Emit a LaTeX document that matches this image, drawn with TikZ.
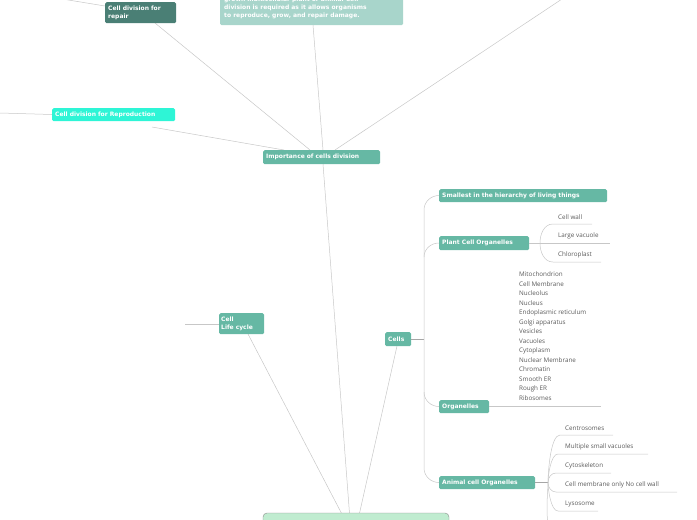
\documentclass[tikz,border=0pt]{standalone}
\usepackage{fontspec}
\setmainfont{DejaVu Sans}
\newfontfamily\leaffont{Open Sans}
\definecolor{cDark}{RGB}{74,127,117}
\definecolor{cCyan}{RGB}{46,245,214}
\definecolor{cMid}{RGB}{102,184,164}
\definecolor{cLight}{RGB}{168,213,203}
\definecolor{cRoot}{RGB}{192,236,208}
\begin{document}
\begin{tikzpicture}[x=1pt,y=-1pt,
 box/.style={fill=#1,rounded corners=1.5pt,text=white,font=\bfseries\fontsize{6}{8}\selectfont,inner sep=0pt,anchor=north west,align=left},
 conn/.style={draw=black!22,line width=0.5pt},
 leaf/.style={font=\leaffont\fontsize{6.3}{9.5}\selectfont,text=black!65,anchor=west,inner sep=0pt,align=left}]
\useasboundingbox (0,0) rectangle (697,520);
\begin{scope}
\clip (0,0) rectangle (697,520);
% connectors
\coordinate (e1) at (50,-3);
\coordinate (e2) at (0,113);
\coordinate (e3) at (185,324);
\coordinate (e4) at (565,-3);
\draw[conn] (e1) -- (105,6);
\draw[conn] (e2) -- (52,114.5);
\draw[conn] (e3) -- (219,324);
\draw[conn] (e4) -- (335,150);
\draw[conn] (313,25) -- (323,150);
\draw[conn] (155,23) -- (310,150);
\draw[conn] (152,127) -- (284,150);
\draw[conn] (323,164) -- (350,520);
\draw[conn] (248,334) -- (345,520);
\draw[conn] (397,346) -- (358,520);
% nodes
\node[box=cLight,minimum width=183pt,minimum height=31pt] (top) at (220,-6) {};
\node[font=\bfseries\fontsize{6}{8}\selectfont,text=white,anchor=north west,align=left,inner sep=0pt] (toptxt) at (224,-3.5) {grown multicellular plant or animal Cell\\division is required as it allows organisms\\to reproduce, grow, and repair damage.};
\node[box=cDark,minimum height=21pt,text width=71pt] (rep) at (105,2) {\hspace*{3pt}Cell division for\\\hspace*{3pt}repair};
\node[box=cCyan,minimum height=13pt,text width=123pt] (repro) at (52,108) {\hspace*{3pt}Cell division for Reproduction};
\node[box=cMid,minimum height=14pt,text width=117pt] (imp) at (263,150) {\hspace*{3pt}Importance of cells division};
\node[box=cMid,minimum height=21pt,text width=45pt] (life) at (219,313) {\hspace*{2pt}Cell\\\hspace*{2pt}Life cycle};
\node[box=cMid,minimum height=14pt,text width=26pt] (cells) at (385,332) {\hspace*{3pt}Cells};
\node[box=cMid,minimum height=13pt,text width=168pt] (small) at (439,189) {\hspace*{3pt}Smallest in the hierarchy of living things};
\node[box=cMid,minimum height=14pt,text width=90pt] (plant) at (439,236) {\hspace*{3pt}Plant Cell Organelles};
\node[box=cMid,minimum height=13pt,text width=50pt] (org) at (439,400) {\hspace*{3pt}Organelles};
\node[box=cMid,minimum height=13pt,text width=96pt] (anim) at (439,476) {\hspace*{3pt}Animal cell Organelles};
\draw[draw=black!45,fill=cRoot,rounded corners=4pt] (263,513) rectangle (449,530);
% cells branches
\draw[conn,black!35] (411,339) -- (424,339);
\draw[conn] (439,195.5) to[out=180,in=90] (424,210) -- (424,339);
\draw[conn] (439,243) to[out=180,in=90] (424,257);
\draw[conn] (439,406.5) to[out=180,in=-90] (424,392) -- (424,339);
\draw[conn] (439,482.5) to[out=180,in=-90] (424,468) -- (424,392);
% plant leaves
\draw[conn] (529,243) -- (540,243);
\node[leaf] (cw) at (558,217) {Cell wall};
\node[leaf] (lv) at (558,236) {Large vacuole};
\node[leaf] (ch) at (558,255) {Chloroplast};
\draw[conn] (540,243) to[out=90,in=180] (553,224) -- (592,224);
\draw[conn] (540,243) -- (610,243);
\draw[conn] (540,243) to[out=-90,in=180] (553,262) -- (601,262);
% organelles list
\node[leaf,anchor=north west] (ol) at (519,272) {Mitochondrion\\Cell Membrane\\Nucleolus\\Nucleus\\Endoplasmic reticulum\\Golgi apparatus\\Vesicles\\Vacuoles\\Cytoplasm\\Nuclear Membrane\\Chromatin\\Smooth ER\\Rough ER\\Ribosomes};
\draw[conn] (489,406.5) -- (601,406.5);
% animal leaves
\draw[conn,black!35] (535,482.5) -- (548,482.5);
\node[leaf] (a1) at (565,428) {Centrosomes};
\node[leaf] (a2) at (565,447) {Multiple small vacuoles};
\node[leaf] (a3) at (565,466) {Cytoskeleton};
\node[leaf] (a4) at (565,485) {Cell membrane only No cell wall};
\node[leaf] (a5) at (565,504) {Lysosome};
\draw[conn] (548,482.5) to[out=90,in=180,looseness=0.5] (560,435) -- (613,435);
\draw[conn] (548,482.5) to[out=90,in=180,looseness=0.6] (558,454) -- (648,454);
\draw[conn] (548,482.5) to[out=90,in=180] (556,473) -- (611,473);
\draw[conn] (548,482.5) to[out=-90,in=180] (556,492) -- (677,492);
\draw[conn] (548,482.5) to[out=-90,in=180,looseness=0.6] (558,511) -- (598,511);
\draw[conn] (548,482.5) to[out=-90,in=180,looseness=0.5] (553,530);
\end{scope}
\end{tikzpicture}
\end{document}
